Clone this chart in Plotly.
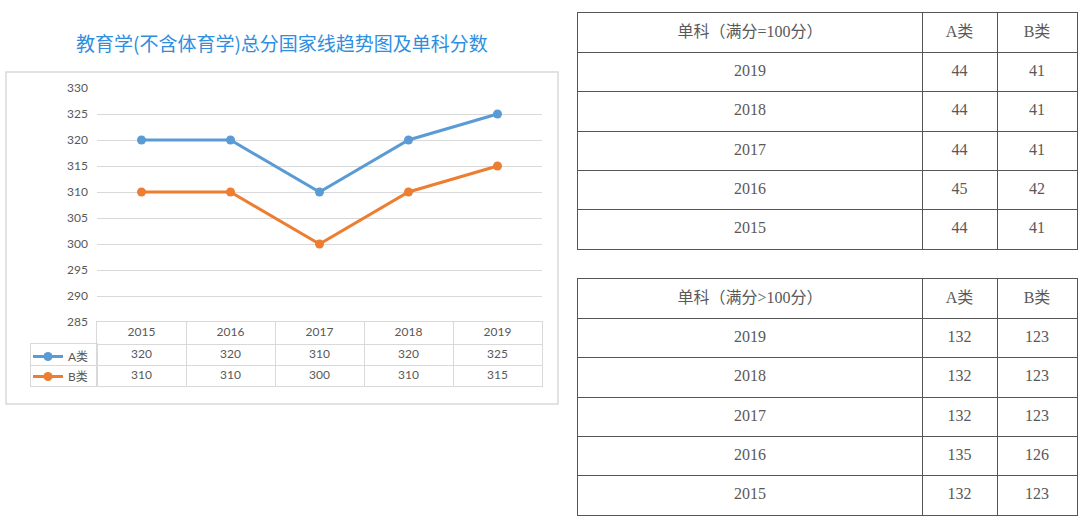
import plotly.graph_objects as go

# ---------------- data ----------------
years = ["2015", "2016", "2017", "2018", "2019"]
series_a = [320, 320, 310, 320, 325]
series_b = [310, 310, 300, 310, 315]
series_names = ["A类", "B类"]

title_text = "教育学(不含体育学)总分国家线趋势图及单科分数"

t_years = ["2019", "2018", "2017", "2016", "2015"]
t_cols = ["A类", "B类"]
t1_header = "单科（满分=100分）"
t1_a = [44, 44, 44, 45, 44]
t1_b = [41, 41, 41, 42, 41]
t2_header = "单科（满分>100分）"
t2_a = [132, 132, 132, 135, 132]
t2_b = [123, 123, 123, 126, 123]

# ---------------- layout helpers ----------------
W, H = 1080, 521
def px(x):
    return x / W
def py(y):
    return min(1.0, max(0.0, 1 - y / H))

BLUE = "#5b9bd5"
ORANGE = "#ed7d31"
GRID = "#d9d9d9"
TXT = "#595959"
TBORDER = "#555555"
SANS = "Lato, Noto Sans CJK SC, sans-serif"
SERIF = "Liberation Serif, Noto Sans CJK SC, serif"

fig = go.Figure()

fig.add_trace(go.Scatter(
    x=years, y=series_a, name=series_names[0], mode="lines+markers",
    line=dict(color=BLUE, width=3), marker=dict(size=9, color=BLUE),
    legendgroup="a", hoverinfo="skip"))
fig.add_trace(go.Scatter(
    x=years, y=series_b, name=series_names[1], mode="lines+markers",
    line=dict(color=ORANGE, width=3), marker=dict(size=9, color=ORANGE),
    legendgroup="b", hoverinfo="skip"))

box_common = dict(showticklabels=False, ticks="", zeroline=False,
                  showgrid=True, showline=True, mirror=True, linewidth=1,
                  gridwidth=1, fixedrange=True, automargin=False)

# ---- chart data table under the plot (years columns share the category scale)
row_edges = [0, 22, 43, 64]          # header, A row, B row (pixel heights)
row_mid = [(row_edges[i] + row_edges[i + 1]) / 2 for i in range(3)]
dt_x, dt_y, dt_t = [], [], []
for i, yr in enumerate(years):
    for r, v in enumerate([yr, series_a[i], series_b[i]]):
        dt_x.append(yr)
        dt_y.append(row_mid[r])
        dt_t.append(str(v))
fig.add_trace(go.Scatter(
    x=dt_x, y=dt_y, text=dt_t, mode="text", textposition="middle center",
    textfont=dict(family=SANS, size=12, color=TXT), xaxis="x4", yaxis="y4",
    showlegend=False, hoverinfo="skip"))
# legend column box (keys come from the real legend)
fig.add_trace(go.Scatter(
    x=[], y=[], mode="markers", xaxis="x5", yaxis="y5", showlegend=False,
    hoverinfo="skip"))

fig.update_layout(
    xaxis4=dict(domain=[px(97), px(542)], type="category",
                categoryorder="array", categoryarray=years,
                range=[-0.5, len(years) - 0.5], tickson="boundaries",
                gridcolor=GRID, linecolor=GRID, anchor="y4", **box_common),
    yaxis4=dict(domain=[py(386), py(322)], range=[row_edges[-1], 0],
                tickmode="array", tickvals=row_edges, gridcolor=GRID,
                linecolor=GRID, anchor="x4", **box_common),
    xaxis5=dict(domain=[px(31), px(97)], range=[0, 1], tickmode="array",
                tickvals=[], gridcolor=GRID, linecolor=GRID, anchor="y5",
                **box_common),
    yaxis5=dict(domain=[py(386), py(344)], range=[2, 0], tickmode="array",
                tickvals=[0, 1, 2], gridcolor=GRID, linecolor=GRID,
                anchor="x5", **box_common),
)

# ---- right-hand tables drawn on their own axes
col_w = [344, 75, 80]
bounds = [0]
for w in col_w:
    bounds.append(bounds[-1] + w)
centers = [(bounds[i] + bounds[i + 1]) / 2 for i in range(len(col_w))]
n_rows = 1 + len(t_years)

def add_right_table(idx, header, a_vals, b_vals, ytop, ybot):
    xs, ys, texts = [], [], []
    row_vals = [[header] + t_cols] + [[y, str(a), str(b)] for y, a, b in zip(t_years, a_vals, b_vals)]
    for r, row in enumerate(row_vals):
        for c, v in enumerate(row):
            xs.append(centers[c])
            ys.append(r + 0.5)
            texts.append(v)
    fig.add_trace(go.Scatter(
        x=xs, y=ys, text=texts, mode="text", textposition="middle center",
        textfont=dict(family=SERIF, size=16, color=TXT),
        xaxis="x%d" % idx, yaxis="y%d" % idx, showlegend=False,
        hoverinfo="skip"))
    fig.update_layout(**{
        "xaxis%d" % idx: dict(domain=[px(578), px(1077)], range=[0, bounds[-1]],
                              tickmode="array", tickvals=bounds,
                              gridcolor=TBORDER, linecolor=TBORDER,
                              anchor="y%d" % idx, **box_common),
        "yaxis%d" % idx: dict(domain=[py(ybot), py(ytop)], range=[n_rows, 0],
                              tickmode="array", tickvals=list(range(n_rows + 1)),
                              gridcolor=TBORDER, linecolor=TBORDER,
                              anchor="x%d" % idx, **box_common),
    })

add_right_table(2, t1_header, t1_a, t1_b, 13, 249)
add_right_table(3, t2_header, t2_a, t2_b, 279, 515)

fig.update_layout(
    width=W, height=H,
    margin=dict(l=0, r=0, t=0, b=0, pad=0, autoexpand=False),
    paper_bgcolor="white", plot_bgcolor="white",
    showlegend=True,
    legend=dict(x=px(28), y=py(342), xanchor="left", yanchor="top",
                font=dict(family=SANS, size=12, color=TXT),
                tracegroupgap=1, bgcolor="rgba(0,0,0,0)"),
    xaxis=dict(domain=[px(97), px(542)], type="category",
               range=[-0.5, 4.5], showticklabels=False, showgrid=False,
               zeroline=False, showline=False, ticks="", automargin=False),
    yaxis=dict(domain=[py(322), py(88)], range=[285, 330], dtick=5,
               showgrid=True, gridcolor=GRID, gridwidth=1, zeroline=False,
               showline=False, ticks="", ticklabelstandoff=8, automargin=False,
               tickfont=dict(family=SANS, size=12, color=TXT)),
    annotations=[dict(text=title_text, x=px(282), y=py(42), xref="paper",
                      yref="paper", showarrow=False, xanchor="center",
                      yanchor="middle",
                      font=dict(family="Noto Sans CJK SC", size=19,
                                color="#2e8ee0"))],
    shapes=[dict(type="rect", xref="paper", yref="paper",
                 x0=px(6), x1=px(558), y0=py(404), y1=py(72),
                 line=dict(color=GRID, width=1.5), layer="below")],
)

fig.write_html("out.html")
